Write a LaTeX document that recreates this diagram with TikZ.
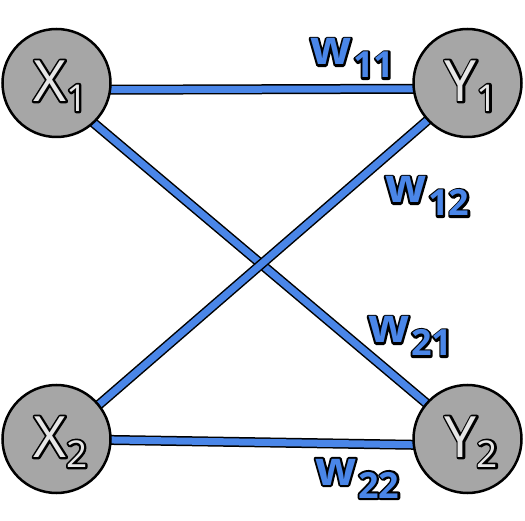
\documentclass[tikz,border=0pt]{standalone}
\usepackage{fontspec}
\setmainfont{Open Sans}
\usetikzlibrary{backgrounds}
\definecolor{lineblue}{HTML}{4A86E8}
\definecolor{nodegray}{HTML}{A6A6A6}
\definecolor{lbl}{HTML}{E6E6E6}
\newcommand{\stroketext}[1]{\rlap{\special{pdf:literal direct 1 Tr 4 w 0 0 0 RG 1 j}#1\special{pdf:literal direct 0 Tr}}#1}
\newcommand{\nlab}[2]{{\fontsize{57}{57}\selectfont\color{lbl}\kern8pt\raisebox{-3pt}[\height][\depth]{\stroketext{#1}\raisebox{-10pt}{\fontsize{37}{37}\selectfont\stroketext{#2}}}}}
\newcommand{\wlab}[1]{{\bfseries\fontsize{48}{48}\selectfont\color{lineblue}\stroketext{w}\kern2pt\raisebox{-13pt}{\fontsize{36}{36}\selectfont\stroketext{#1}}}}
\tikzset{
  neuron/.style={circle, draw=black, line width=2.5pt, fill=nodegray, minimum size=108pt, inner sep=0pt},
  wire/.style={draw=black, line width=1.5pt, double=lineblue, double distance=7pt, shorten <=-8pt, shorten >=-8pt},
  wlabel/.style={inner sep=0pt, anchor=base west}
}
\begin{document}
\begin{tikzpicture}[x=1pt,y=-1pt]
\useasboundingbox (0,0) rectangle (525,521);
\node[neuron] (X1) at (56.5,83) {\nlab{X}{1}};
\node[neuron] (Y1) at (467.5,83) {\nlab{Y}{1}};
\node[neuron] (X2) at (56.5,439) {\nlab{X}{2}};
\node[neuron] (Y2) at (467.5,439) {\nlab{Y}{2}};
\begin{pgfonlayer}{background}
\draw[wire] (X1.-7) -- (Y1.186);
\draw[wire] (X2.-1.5) -- (Y2.186);
\draw[wire] (X1.-47) -- (Y2.139);
\draw[wire] (X2.39.6) -- (Y1.-137.5);
\end{pgfonlayer}
\node[wlabel] (w11) at (310,65) {\wlab{11}};
\node[wlabel] (w12) at (385,203) {\wlab{12}};
\node[wlabel] (w21) at (368,343) {\wlab{21}};
\node[wlabel] (w22) at (315,485) {\wlab{22}};
\end{tikzpicture}
\end{document}
